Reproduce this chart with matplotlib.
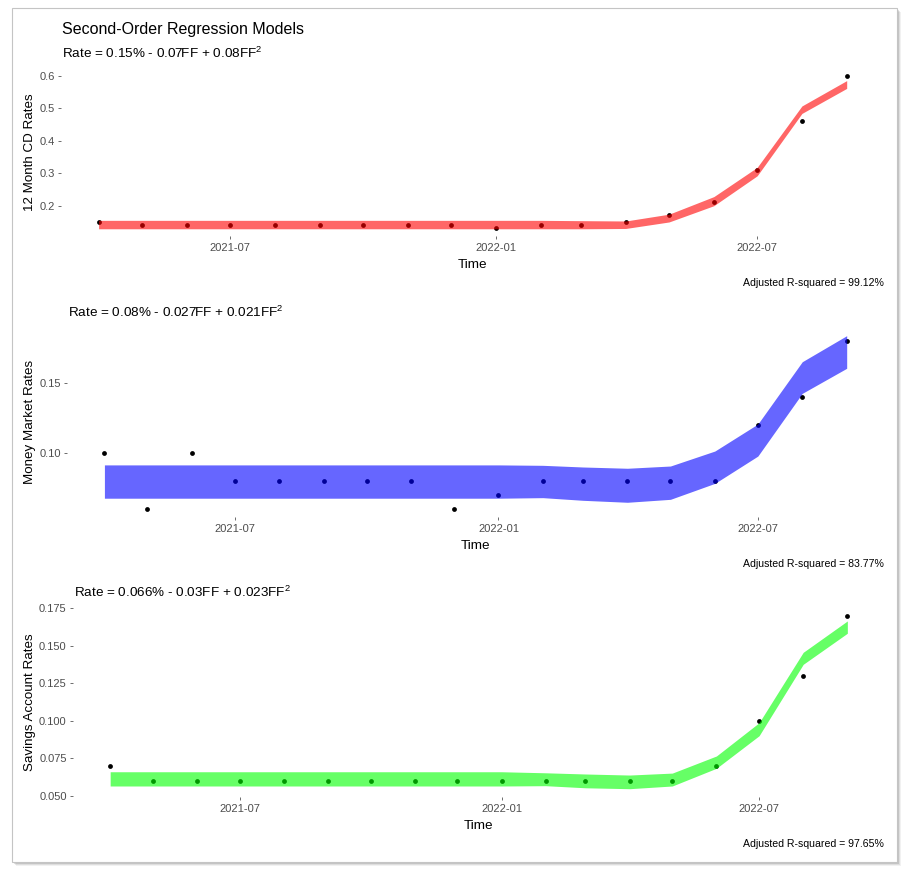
import pandas as pd
import matplotlib.pyplot as plt
import matplotlib.dates as mdates
from matplotlib.patches import Rectangle
from matplotlib.ticker import FormatStrFormatter

plt.rcParams['font.family'] = ['Liberation Sans', 'DejaVu Sans']
plt.rcParams['mathtext.fontset'] = 'custom'
plt.rcParams['mathtext.rm'] = 'Liberation Sans'
plt.rcParams['mathtext.it'] = 'Liberation Sans'

months = pd.date_range('2021-04-01', periods=18, freq='MS')

cd_rates = [0.15, 0.14, 0.14, 0.14, 0.14, 0.14, 0.14, 0.14, 0.14,
            0.13, 0.14, 0.14, 0.15, 0.17, 0.21, 0.31, 0.46, 0.60]
cd_upper = [0.155] * 11 + [0.154, 0.153, 0.174, 0.228, 0.318, 0.507, 0.585]
cd_lower = [0.129] * 11 + [0.129, 0.130, 0.150, 0.200, 0.292, 0.484, 0.561]

mm_rates = [0.10, 0.06, 0.10, 0.08, 0.08, 0.08, 0.08, 0.08, 0.06,
            0.07, 0.08, 0.08, 0.08, 0.08, 0.08, 0.12, 0.14, 0.18]
mm_upper = [0.0913] * 10 + [0.0910, 0.0898, 0.0889, 0.0905, 0.1012, 0.1205, 0.1650, 0.1836]
mm_lower = [0.0675] * 10 + [0.0679, 0.0660, 0.0646, 0.0667, 0.0781, 0.0976, 0.1424, 0.1603]

sav_rates = [0.07] + [0.06] * 13 + [0.07, 0.10, 0.13, 0.17]
sav_upper = [0.0660] * 10 + [0.0653, 0.0645, 0.0638, 0.0651, 0.0765, 0.0987, 0.1456, 0.1665]
sav_lower = [0.0565] * 10 + [0.0567, 0.0553, 0.0547, 0.0565, 0.0683, 0.0900, 0.1376, 0.1583]

x_ticks = ['2021-07-01', '2022-01-01', '2022-07-01']

W, H = 910, 877

panels = [
  dict(rates=cd_rates, upper=cd_upper, lower=cd_lower, color='red',
       ylabel='12 Month CD Rates', ticks=[0.2, 0.3, 0.4, 0.5, 0.6], fmt='%.1f',
       ylim=(0.1065, 0.625), box=(61.2, 67.6, 884.1, 236.1),
       eq='Rate = 0.15% - 0.07FF + 0.08FF$^2$', r2='Adjusted R-squared = 99.12%'),
  dict(rates=mm_rates, upper=mm_upper, lower=mm_lower, color='blue',
       ylabel='Money Market Rates', ticks=[0.10, 0.15], fmt='%.2f',
       ylim=(0.0538, 0.1898), box=(67.3, 327.0, 883.8, 517.4),
       eq='Rate = 0.08% - 0.027FF + 0.021FF$^2$', r2='Adjusted R-squared = 83.77%'),
  dict(rates=sav_rates, upper=sav_upper, lower=sav_lower, color='lime',
       ylabel='Savings Account Rates', ticks=[0.050, 0.075, 0.100, 0.125, 0.150, 0.175],
       fmt='%.3f', ylim=(0.0489, 0.1758), box=(73.3, 607.0, 884.2, 797.4),
       eq='Rate = 0.066% - 0.03FF + 0.023FF$^2$', r2='Adjusted R-squared = 97.65%'),
]


def fx(px):
  return px / W


def fy(py):
  return 1 - py / H


def plot_data():
  fig = plt.figure(figsize=(W / 100, H / 100), dpi=100)

  # drop shadow and thin frame around the whole picture, kept behind the axes
  for off, a in [(4, 0.08), (3, 0.12), (2, 0.18), (1, 0.25)]:
    fig.patches.append(Rectangle((fx(12 + off), fy(862 + off)), fx(885), 854 / H,
                                 transform=fig.transFigure, facecolor='#555555',
                                 edgecolor='none', alpha=a, zorder=-3))
  fig.patches.append(Rectangle((fx(12), fy(862)), fx(885), 854 / H,
                               transform=fig.transFigure, facecolor='white',
                               edgecolor='#c4c4c4', linewidth=0.8, zorder=-2))

  span = months[-1] - months[0]
  xmin = months[0] - span * 0.05
  xmax = months[-1] + span * 0.05

  for p in panels:
    left, top, right, bottom = p['box']
    ax = fig.add_axes([fx(left), fy(bottom), fx(right - left), (bottom - top) / H])
    ax.set_facecolor('none')
    ax.set_zorder(1)

    ax.scatter(months, p['rates'], s=12, color='black', zorder=2, linewidths=0)
    ax.fill_between(months, p['lower'], p['upper'], color=p['color'],
                    alpha=0.6, linewidth=0, zorder=3)

    ax.set_xlim(xmin, xmax)
    ax.set_ylim(*p['ylim'])
    ax.set_xticks(pd.to_datetime(x_ticks))
    ax.xaxis.set_major_formatter(mdates.DateFormatter('%Y-%m'))
    ax.set_yticks(p['ticks'])
    ax.yaxis.set_major_formatter(FormatStrFormatter(p['fmt']))
    ax.tick_params(length=2.3, width=0.5, color='#333333', labelcolor='#4d4d4d',
                   labelsize=8, pad=2.5)
    for s in ax.spines.values():
      s.set_visible(False)

    fig.text(fx(left + 0.5), fy(top - 10), p['eq'], fontsize=9.7, ha='left', va='baseline')
    fig.text(fx((left + right) / 2), fy(bottom + 31.5), 'Time', fontsize=9.7,
             ha='center', va='baseline')
    fig.text(fx(right), fy(bottom + 49.5), p['r2'], fontsize=7.6, ha='right', va='baseline')
    fig.text(fx(30), fy((top + bottom) / 2), p['ylabel'], fontsize=9.6, rotation=90,
             ha='center', va='center')

  fig.text(fx(61.7), fy(34), 'Second-Order Regression Models', fontsize=11.5,
           ha='left', va='baseline')

  fig.savefig('out.png', dpi=100)
  plt.close(fig)


def main():
  plot_data()


if __name__ == '__main__':
  main()
